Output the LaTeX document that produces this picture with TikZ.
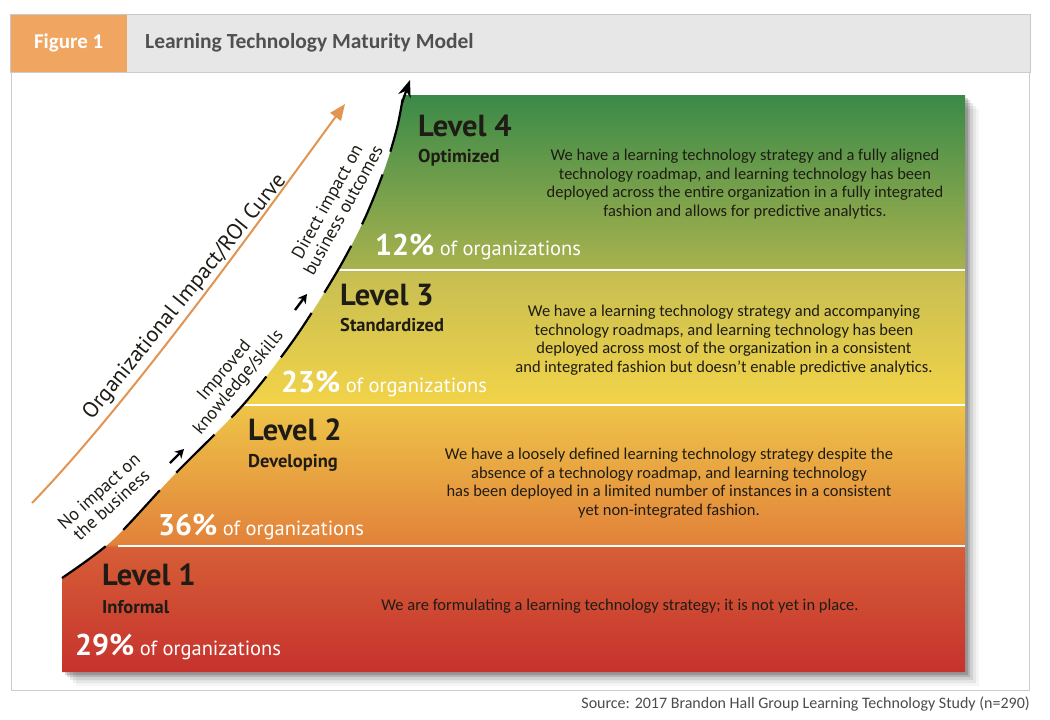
\documentclass[tikz,border=0pt]{standalone}
\usepackage{fontspec}
\setmainfont{Carlito}
\newfontfamily\mys{PT Sans}
\usetikzlibrary{arrows.meta}
\definecolor{hdrorange}{RGB}{240,166,96}
\definecolor{hdrgray}{RGB}{231,231,231}
\definecolor{hdrline}{RGB}{200,200,200}
\definecolor{framegray}{RGB}{205,205,205}
\definecolor{titlegray}{RGB}{80,80,80}
\definecolor{txtdark}{RGB}{30,28,20}
\definecolor{orarrow}{RGB}{226,148,80}
\definecolor{cA}{RGB}{198,50,45}
\definecolor{cB}{RGB}{214,94,55}
\definecolor{cC}{RGB}{226,130,58}
\definecolor{cD}{RGB}{238,196,72}
\definecolor{cE}{RGB}{242,211,72}
\definecolor{cF}{RGB}{198,190,82}
\definecolor{cG}{RGB}{168,178,78}
\definecolor{cH}{RGB}{58,138,72}
\pgfdeclareverticalshading{lvlshade}{100bp}{color(0bp)=(cA); color(25bp)=(cA); color(35.8bp)=(cB); color(36.1bp)=(cC); color(48.0bp)=(cD); color(48.3bp)=(cE); color(59.7bp)=(cF); color(59.9bp)=(cG); color(75bp)=(cH); color(100bp)=(cH)}
\tikzset{
  lvl/.style={anchor=base west, inner sep=0, font=\mys\bfseries\fontsize{30.5}{30}\selectfont, text=txtdark},
  lvlsub/.style={anchor=base west, inner sep=0, font=\mys\bfseries\fontsize{18.5}{19}\selectfont, text=txtdark},
  desc/.style={align=center, inner sep=0, font=\fontsize{16.5}{18.6}\selectfont, text=txtdark},
  pct/.style={anchor=base west, inner sep=0, text=white},
  clbl/.style={align=center, inner sep=0, font=\mys\fontsize{18}{18.5}\selectfont, text=txtdark},
  sep/.style={white, line width=2pt},
  smallarr/.style={line width=2.4pt, -{Stealth[length=9pt,width=10pt]}},
}
\newcommand{\pcttext}[1]{{\mys\bfseries\fontsize{30}{30}\selectfont #1}{\mys\fontsize{20.5}{21}\selectfont\ of organizations}}
\begin{document}
\begin{tikzpicture}[x=1pt,y=-1pt]
\useasboundingbox (0,0) rectangle (1050,720);
\fill[white] (0,0) rectangle (1050,720);

% header
\node[draw=hdrline, fill=hdrgray, line width=1pt, minimum width=1020pt, minimum height=58pt, anchor=north west, inner sep=0] (hdr) at (10,14) {};
\node[fill=hdrorange, minimum width=116pt, minimum height=57pt, anchor=north west, inner sep=0, text=white, font=\bfseries\fontsize{21}{21}\selectfont] (fig) at (10.5,14.5) {Figure 1};
\node[anchor=west, inner sep=0, text=titlegray, font=\bfseries\fontsize{21.5}{22}\selectfont] (title) at (145,43) {Learning Technology Maturity Model};

% frame
\node[draw=framegray, line width=1.2pt, minimum width=1018pt, minimum height=618pt, anchor=north west, inner sep=0] (frame) at (11,72) {};

% shadow of staircase
\foreach \s/\o in {14/0.04,11/0.06,8/0.09,5/0.13,3/0.16}{
  \fill[black, opacity=\o, shift={(\s,\s)}] (62,672) -- (62,578) -- plot[smooth] coordinates {(62,578) (113,540) (175,474) (243,405) (295,338) (338,270) (365,218) (385,168) (397,128) (403,95)} -- (965,95) -- (965,672) -- cycle;
}
% staircase body
\path[shading=lvlshade] (62,672) -- (62,578) -- plot[smooth] coordinates {(62,578) (113,540) (175,474) (243,405) (295,338) (338,270) (365,218) (385,168) (397,128) (403,95)} -- (965,95) -- (965,672) -- cycle;

% separators
\coordinate (s1a) at (118,546); \coordinate (s1b) at (965,546);
\coordinate (s2a) at (243,405); \coordinate (s2b) at (965,405);
\coordinate (s3a) at (338,270); \coordinate (s3b) at (965,270);
\draw[sep] (s1a) -- (s1b);
\draw[sep] (s2a) -- (s2b);
\draw[sep] (s3a) -- (s3b);

% curve line
\draw[line width=2.2pt, dash pattern=on 54pt off 24pt] plot[smooth] coordinates {(62,578) (113,540) (175,474) (243,405) (295,338) (338,270) (365,218) (385,168) (397,128) (403,97)};
\coordinate (tipA) at (402,103);
\coordinate (tipB) at (410,80);
\draw[line width=2.2pt, -{Stealth[length=17pt,width=13pt]}] (tipA) -- (tipB);

% small arrows
\coordinate (m1a) at (170,463); \coordinate (m1b) at (184,449);
\coordinate (m2a) at (295,310); \coordinate (m2b) at (307,294);
\draw[smallarr] (m1a) -- (m1b);
\draw[smallarr] (m2a) -- (m2b);

% orange ROI arrow
\coordinate (oa) at (32,503);
\coordinate (ob) at (345,104);
\draw[orarrow, line width=2pt, -{Triangle[length=16pt,width=13pt]}] (oa) .. controls (132,400) and (273,202) .. (ob);

% rotated labels
\node[clbl, rotate=42] (l1) at (105,498) {No impact on\\the business};
\node[clbl, rotate=50] (l2) at (232,377) {Improved\\knowledge/skills};
\node[clbl, rotate=61] (l3) at (335,206) {Direct impact on\\business outcomes};
\node[inner sep=0, font=\mys\fontsize{22}{22}\selectfont, text=txtdark, rotate=51] (roi) at (185,297) {Organizational Impact/ROI Curve};

% Level 4
\node[lvl] (L4) at (418,136) {Level 4};
\node[lvlsub] (L4s) at (418,162) {Optimized};
\node[desc] (D4) at (745,184) {We have a learning technology strategy and a fully aligned\\technology roadmap, and learning technology has been\\deployed across the entire organization in a fully integrated\\fashion and allows for predictive analytics.};
\node[pct] (P4) at (375,255) {\pcttext{12\%}};

% Level 3
\node[lvl] (L3) at (340,305) {Level 3};
\node[lvlsub] (L3s) at (340,331) {Standardized};
\node[desc] (D3) at (724,340) {We have a learning technology strategy and accompanying\\technology roadmaps, and learning technology has been\\deployed across most of the organization in a consistent\\and integrated fashion but doesn't enable predictive analytics.};
\node[pct] (P3) at (281,392) {\pcttext{23\%}};

% Level 2
\node[lvl] (L2) at (248,440) {Level 2};
\node[lvlsub] (L2s) at (248,467) {Developing};
\node[desc] (D2) at (669,483) {We have a loosely defined learning technology strategy despite the\\absence of a technology roadmap, and learning technology\\has been deployed in a limited number of instances in a consistent\\yet non-integrated fashion.};
\node[pct] (P2) at (158,535) {\pcttext{36\%}};

% Level 1
\node[lvl] (L1) at (102,585) {Level 1};
\node[lvlsub] (L1s) at (102,613) {Informal};
\node[desc] (D1) at (620,606) {We are formulating a learning technology strategy; it is not yet in place.};
\node[pct] (P1) at (75,655) {\pcttext{29\%}};

% source
\node[anchor=east, inner sep=0, text=black!70, font=\fontsize{16}{16}\selectfont] (src) at (1030,704) {Source: 2017 Brandon Hall Group Learning Technology Study (n=290)};
\end{tikzpicture}
\end{document}
